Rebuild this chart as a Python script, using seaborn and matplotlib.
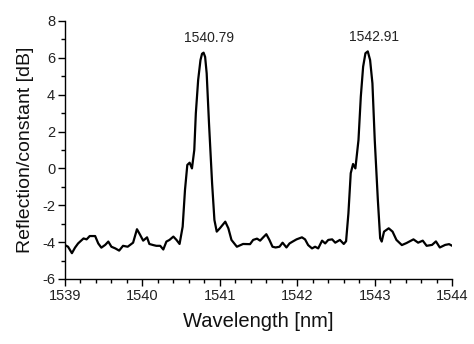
import numpy as np
import pandas as pd
import matplotlib
matplotlib.use("Agg")
import matplotlib.pyplot as plt
from matplotlib.ticker import MultipleLocator
import seaborn as sns

# Reflection spectrum of two gratings (wavelength in nm, reflection in dB)
wavelength = [
    1539.00, 1539.04, 1539.09, 1539.13, 1539.17, 1539.24, 1539.28, 1539.32,
    1539.39, 1539.43, 1539.47, 1539.52, 1539.56, 1539.60, 1539.65, 1539.70,
    1539.75, 1539.81, 1539.88, 1539.93, 1539.97, 1540.01, 1540.06, 1540.09,
    1540.14, 1540.18, 1540.23, 1540.27, 1540.31, 1540.35, 1540.40, 1540.44,
    1540.48, 1540.52, 1540.55, 1540.58, 1540.61, 1540.64, 1540.67, 1540.69,
    1540.72, 1540.75, 1540.77, 1540.79, 1540.81, 1540.83, 1540.86, 1540.90,
    1540.93, 1540.96, 1541.00, 1541.07, 1541.11, 1541.15, 1541.22, 1541.30,
    1541.39, 1541.43, 1541.48, 1541.52, 1541.56, 1541.60, 1541.64, 1541.68,
    1541.72, 1541.77, 1541.81, 1541.86, 1541.90, 1541.94, 1541.99, 1542.06,
    1542.10, 1542.14, 1542.19, 1542.23, 1542.27, 1542.32, 1542.36, 1542.40,
    1542.45, 1542.49, 1542.55, 1542.60, 1542.63, 1542.66, 1542.69, 1542.72,
    1542.75, 1542.79, 1542.82, 1542.85, 1542.88, 1542.91, 1542.94, 1542.97,
    1543.00, 1543.04, 1543.07, 1543.09, 1543.12, 1543.18, 1543.23, 1543.28,
    1543.35, 1543.41, 1543.50, 1543.56, 1543.62, 1543.67, 1543.74, 1543.79,
    1543.84, 1543.91, 1543.96, 1544.00,
]
reflection = [
    -4.16, -4.25, -4.60, -4.30, -4.07, -3.80, -3.85, -3.67,
    -3.67, -4.07, -4.30, -4.15, -3.97, -4.25, -4.34, -4.46,
    -4.20, -4.25, -4.03, -3.30, -3.60, -3.92, -3.74, -4.10,
    -4.16, -4.20, -4.20, -4.40, -3.97, -3.88, -3.70, -3.88,
    -4.10, -3.16, -1.17, 0.19, 0.31, 0.00, 1.00, 2.99,
    4.80, 5.88, 6.22, 6.28, 6.05, 5.16, 2.45, -0.81,
    -2.80, -3.43, -3.25, -2.89, -3.25, -3.88, -4.25, -4.10,
    -4.11, -3.88, -3.81, -3.92, -3.74, -3.57, -3.88, -4.25,
    -4.29, -4.25, -4.03, -4.29, -4.07, -3.97, -3.85, -3.74,
    -3.85, -4.16, -4.34, -4.25, -4.34, -3.92, -4.07, -3.88,
    -3.85, -4.03, -3.88, -4.10, -3.95, -2.44, -0.26, 0.24,
    0.00, 1.54, 3.89, 5.52, 6.25, 6.35, 5.88, 4.62,
    1.54, -1.71, -3.79, -3.97, -3.43, -3.25, -3.43, -3.88,
    -4.16, -4.05, -3.85, -4.03, -3.92, -4.20, -4.15, -3.96,
    -4.29, -4.15, -4.11, -4.20,
]

peak_labels = ["1540.79", "1542.91"]
peak_positions = [1540.79, 1542.91]
peak_heights = [6.28, 6.35]

df = pd.DataFrame({"wavelength": wavelength, "reflection": reflection})

sns.set_style("ticks")
plt.rcParams["font.family"] = ["Liberation Sans", "DejaVu Sans"]
plt.rcParams["axes.unicode_minus"] = False

fig = plt.figure(figsize=(4.74, 3.44), dpi=100)
ax = fig.add_axes([0.137, 0.189, 0.817, 0.750])

sns.lineplot(data=df, x="wavelength", y="reflection", ax=ax,
             color="black", linewidth=1.6, sort=False)

for lbl, px, py in zip(peak_labels, peak_positions, peak_heights):
    ax.text(px + 0.075, py + 0.78, lbl, ha="center", va="center",
            fontsize=10, color="#222222")

ax.set_xlim(1539, 1544)
ax.set_ylim(-6, 8)
ax.xaxis.set_major_locator(MultipleLocator(1))
ax.xaxis.set_minor_locator(MultipleLocator(0.2))
ax.yaxis.set_major_locator(MultipleLocator(2))
ax.yaxis.set_minor_locator(MultipleLocator(1))
ax.tick_params(which="major", direction="out", length=5, width=1,
               labelsize=10.5, color="black", labelcolor="#222222", pad=2)
ax.tick_params(which="minor", direction="out", length=3, width=1, color="black")

ax.set_xlabel("Wavelength [nm]", fontsize=14.5, labelpad=7, color="#111111")
ax.set_ylabel("Reflection/constant [dB]", fontsize=14, labelpad=6, color="#111111")

for side in ("top", "right"):
    ax.spines[side].set_visible(False)
for side in ("left", "bottom"):
    ax.spines[side].set_linewidth(1.0)
    ax.spines[side].set_color("black")

fig.savefig("out.png", dpi=100)
